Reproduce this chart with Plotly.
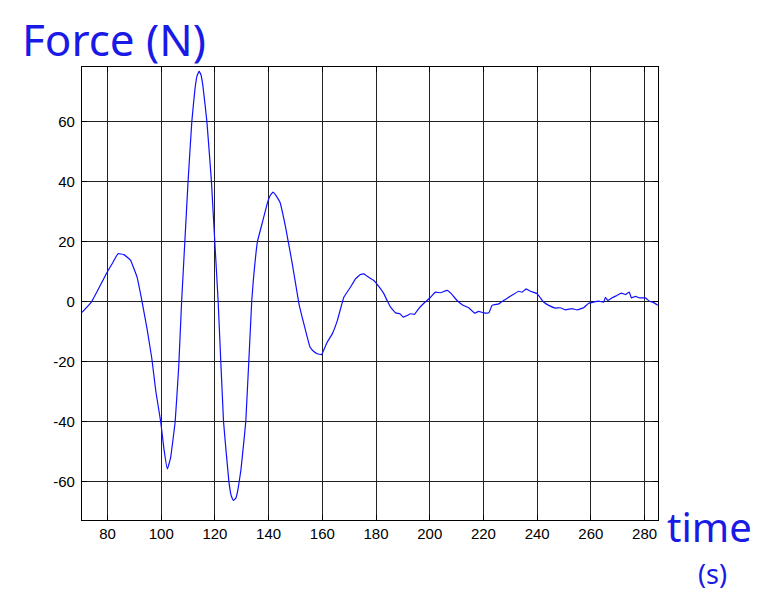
import plotly.graph_objects as go

time_s = [70.5, 74, 79.9, 82, 83.9, 86.1, 88.6, 91, 92.9, 94.7, 96.5, 98, 99.8, 101, 102.3,
          103.5, 105.2, 106.5, 107.6, 108.8, 110, 111.4, 112.6, 113.3, 114.1, 114.8, 115.5, 117,
          118.7, 119.4, 121.2, 123.2, 125.2, 126.1, 126.9, 127.8, 128.6, 129.7, 131.5, 133.7,
          134.3, 135.8, 137.7, 139.6, 140.6, 141.6, 142.5, 144.2, 146.3, 148.8, 151.3, 153.1,
          155.4, 156.6, 158.1, 159.7, 161.8, 163.7, 165.6, 168, 170.5, 172.4, 174.2, 175.5,
          176.7, 179.2, 181, 182.9, 184.4, 185.4, 187.3, 188.9, 190.1, 191.6, 192.8, 194.3,
          195.9, 197.8, 200.3, 202.1, 204, 206.5, 208, 210.2, 212.1, 214.5, 216.8, 218.2, 220.1,
          222, 223.2, 225.7, 227.5, 229.4, 230, 233.1, 234.4, 235.9, 237.5, 240, 242.4, 244.3,
          246.8, 248.6, 250.5, 253, 254.9, 257.3, 259.2, 261, 262.9, 264.8, 265.4, 266.4, 267.9,
          269.7, 271.3, 272.8, 274.3, 275.1, 276.6, 278.1, 280.3, 281.8, 283.4, 284.9]
force_n = [-3.6, -0.2, 9.8, 13, 15.9, 15.6, 13.7, 8.1, -0.2, -9, -19, -30, -40, -49, -55.8,
           -52, -40, -22, 0, 20, 40, 60, 71, 75, 76.7, 75.5, 72, 60,
           40, 28.7, 0, -40, -60, -64.8, -66.3, -65.5, -62.5, -56, -40, 0,
           7, 19.8, 26.4, 33, 35.3, 36.4, 35.6, 33.1, 24.8, 12.6, -0.8, -7.4,
           -15.2, -16.5, -17.4, -17.7, -13.6, -10.8, -6.3, 1.4, 4.8, 7.6, 9, 9.2,
           8.4, 7, 5, 2.6, -0.2, -1.9, -3.8, -4.1, -5.2, -4.7, -4.1, -4.3,
           -2.4, -0.6, 1.4, 3.1, 2.9, 3.7, 2.6, 0.3, -1.1, -2.1, -3.9, -3.3, -3.8,
           -3.8, -1.3, -0.8, 0.3, 1.4, 1.7, 3.4, 3.1, 4.2, 3.4, 2.6, -0.2, -1.3,
           -2.2, -2.1, -2.8, -2.4, -2.8, -2.1, -0.6, -0.2, 0.1, -0.2, 1.4, 0.3, 1.2,
           2, 2.8, 2.3, 3.1, 1.2, 1.7, 1.2, 1.2, 0.1, -0.4, -1.3]

x_ticks = [80, 100, 120, 140, 160, 180, 200, 220, 240, 260, 280]
y_ticks = [-60, -40, -20, 0, 20, 40, 60]
y_tick_labels = ["-60", "-40", "-20", "0", "20", "40", "60"]

fig = go.Figure()
fig.add_trace(go.Scatter(x=time_s, y=force_n, mode="lines",
                         line=dict(color="#1010ff", width=1.2, shape="spline", smoothing=0.25),
                         showlegend=False, hoverinfo="skip"))

axis_common = dict(showline=True, linecolor="black", linewidth=1.2, mirror="ticks",
                   ticks="inside", ticklen=5, tickcolor="black", showgrid=True,
                   gridcolor="#222222", gridwidth=1, zeroline=False,
                   tickfont=dict(family="Liberation Sans, Arial", size=15, color="black"))

fig.update_xaxes(range=[70.5, 285], tickvals=x_ticks, **axis_common)
fig.update_yaxes(range=[-72.8, 78.1], tickvals=y_ticks, ticktext=y_tick_labels,
                 ticklabelstandoff=3, **axis_common)

hand = dict(family="Noto Sans, DejaVu Sans", color="#1a1ae6")
fig.add_annotation(text="Force (N)", xref="paper", yref="paper", x=-0.108, y=1.132,
                   xanchor="left", yanchor="top", showarrow=False,
                   font=dict(size=44, **hand))
fig.add_annotation(text="time", xref="paper", yref="paper", x=1.012, y=0.0508,
                   xanchor="left", yanchor="top", showarrow=False,
                   font=dict(size=40, **hand))
fig.add_annotation(text="(s)", xref="paper", yref="paper", x=1.066, y=-0.0728,
                   xanchor="left", yanchor="top", showarrow=False,
                   font=dict(size=27, **hand))

fig.update_layout(width=776, height=592, margin=dict(l=74, r=126, t=59, b=80),
                  paper_bgcolor="white", plot_bgcolor="white")
fig.write_html("out.html")
